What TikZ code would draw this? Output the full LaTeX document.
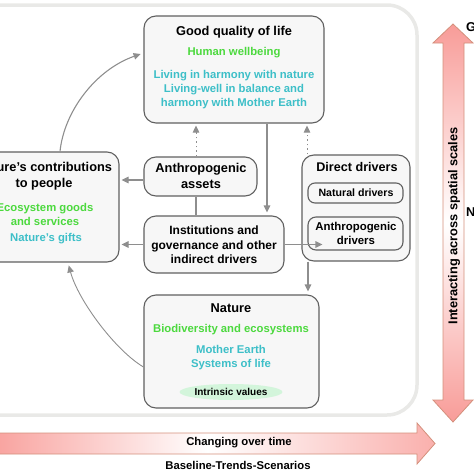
\documentclass[tikz,border=0pt]{standalone}
\usepackage{fontspec}
\setmainfont{Liberation Sans}
\usetikzlibrary{arrows.meta,positioning,shapes.geometric}

\definecolor{boxgray}{HTML}{606060}
\definecolor{boxfill}{HTML}{F7F7F7}
\definecolor{conngray}{HTML}{8E8E8E}
\definecolor{framegray}{HTML}{E9E9E7}
\definecolor{natgreen}{HTML}{4CD93E}
\definecolor{natcyan}{HTML}{3DBFC8}
\definecolor{valgreen}{HTML}{D3F5DB}
\definecolor{arrowpink}{HTML}{F89C98}
\definecolor{arrowedge}{HTML}{D4907C}

\tikzset{
  box/.style={draw=boxgray, fill=boxfill, rounded corners=12pt, line width=1.1pt, inner sep=0pt},
  ttl/.style={inner sep=0pt, align=center, font=\fontsize{12.8}{16}\selectfont\bfseries},
  bod/.style={inner sep=0pt, align=center, font=\fontsize{11.3}{14}\selectfont\bfseries},
  grn/.style={bod, text=natgreen},
  cyn/.style={bod, text=natcyan},
  conn/.style={draw=conngray, line width=1.1pt, -{Triangle[length=7pt,width=6.5pt]}},
  dotconn/.style={conn, line width=0.9pt, dash pattern=on 1.5pt off 3pt},
  bigarrow/.style={draw=arrowedge, line width=0.8pt}
}

\begin{document}
\begin{tikzpicture}[x=1pt,y=-1pt]
\useasboundingbox (0,0) rectangle (474,474);

% frame round the whole system
\draw[framegray, line width=3.5pt, rounded corners=30pt] (-40,5) rectangle (417,415);

% scale arrows
\shade[bigarrow, left color=arrowpink, right color=arrowpink!80, middle color=white]
  (-20,433) -- (417,433) -- (417,423) -- (435,443.5) -- (417,464) -- (417,454) -- (-20,454) -- cycle;
\shade[bigarrow, top color=arrowpink, bottom color=arrowpink, middle color=white]
  (453,24) -- (473,43) -- (464,43) -- (464,400) -- (473,400) -- (453,422)
  -- (433,400) -- (443,400) -- (443,43) -- (433,43) -- cycle;
\node[bod] (time) at (239,443) {Changing over time};
\node[bod] (trend) at (238,465) {Baseline-Trends-Scenarios};
\node[ttl, rotate=90] (space) at (454,226) {Interacting across spatial scales};
\node[ttl, anchor=west] (glob) at (466,27) {Global};
\node[ttl, anchor=west] (natl) at (466,212) {National};

% boxes
\node[box, minimum width=180pt, minimum height=107pt] (gql) at (234,69.5) {};
\node[box, minimum width=151pt, minimum height=110pt] (ncp) at (43.5,207) {};
\node[box, minimum width=113pt, minimum height=39pt] (aa) at (200.5,176.5) {};
\node[box, minimum width=140pt, minimum height=57pt] (inst) at (214,244.5) {};
\node[box, minimum width=108pt, minimum height=106pt] (dd) at (356,208) {};
\node[box, rounded corners=7pt, minimum width=95pt, minimum height=20pt] (nd) at (355.5,193) {};
\node[box, rounded corners=8pt, minimum width=95pt, minimum height=33pt] (ad) at (355.5,233.5) {};
\node[box, minimum width=175pt, minimum height=113pt] (nat) at (231.5,351.5) {};

% texts
\node[ttl] (gqlT) at (234,32) {Good quality of life};
\node[grn] (gqlH) at (234,53) {Human wellbeing};
\node[cyn] (gqlL) at (234,90) {Living in harmony with nature\\Living-well in balance and\\harmony with Mother Earth};
\node[ttl] (ncpT) at (44,176) {Nature’s contributions\\to people};
\node[grn] (ncpE) at (45,214) {Ecosystem goods\\and services};
\node[cyn] (ncpG) at (46,239) {Nature’s gifts};
\node[ttl] (aaT) at (201,176) {Anthropogenic\\assets};
\node[bod, font=\fontsize{12}{14.5}\selectfont\bfseries] (instT) at (214,245) {Institutions and\\governance and other\\indirect drivers};
\node[ttl, font=\fontsize{12.6}{15}\selectfont\bfseries] (ddT) at (357,167) {Direct drivers};
\node[bod, font=\fontsize{10.6}{13}\selectfont\bfseries] (ndT) at (356,193) {Natural drivers};
\node[bod, font=\fontsize{11.4}{13.5}\selectfont\bfseries] (adT) at (356,233.5) {Anthropogenic\\drivers};
\node[ttl] (natT) at (231,308) {Nature};
\node[grn] (natB) at (231,330) {Biodiversity and ecosystems};
\node[cyn] (natM) at (231,358) {Mother Earth\\Systems of life};
\node[ellipse, fill=valgreen, minimum width=102pt, minimum height=16pt, inner sep=0pt,
  font=\fontsize{10}{12}\selectfont\bfseries] (iv) at (231,392) {Intrinsic values};

% connectors
\coordinate (gqlout) at ([xshift=33pt]gql.south);
\coordinate (gqlin) at ([xshift=73pt]gql.south);
\coordinate (ddout) at ([xshift=-48pt]dd.south);
\coordinate (adin) at ([xshift=15pt]inst.east -| ad.west);
\draw[conn, shorten >=2pt] (aa.west |- 0,180) -- (ncp.east |- 0,180);
\draw[conn, shorten >=2pt] (inst.west) -- (inst.west -| ncp.east);
\draw[conn] (inst.east) -- (adin);
\draw[conn, shorten >=3pt] (gqlout) -- (gqlout |- inst.north);
\draw[draw=conngray, line width=1.1pt] ([xshift=-4.5pt]aa.south) -- ([xshift=-4.5pt]aa.south |- inst.north);
\draw[dotconn, shorten >=2pt] ([xshift=-4.5pt]aa.north) -- ([xshift=-4.5pt]aa.north |- gql.south);
\draw[dotconn, shorten >=2pt] (gqlin |- dd.north) -- (gqlin);
\draw[conn, shorten >=3pt] (ddout) -- (ddout |- nat.north);
\draw[conn, shorten >=3pt] ([xshift=16.5pt]ncp.north) .. controls (64,112) and (95,70) .. ([yshift=16.5pt]gql.west);
\draw[draw=conngray, line width=0.9pt, -{Triangle[length=7pt,width=6.5pt]}, shorten >=3pt]
  ([yshift=-15.5pt]nat.west) .. controls (115,350) and (78,300) .. ([xshift=24.5pt]ncp.south);
\end{tikzpicture}
\end{document}
